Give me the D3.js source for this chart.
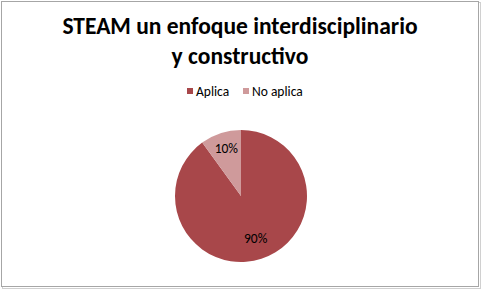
<!DOCTYPE html>
<html>
<head>
<meta charset="utf-8">
<script src="https://cdn.jsdelivr.net/npm/d3@7"></script>
<style>
  html, body { margin: 0; padding: 0; background: #fff; }
  svg { display: block; }
</style>
</head>
<body>
<svg id="chart" width="482" height="290"></svg>
<script>
const titleLines = ["STEAM un enfoque interdisciplinario", "y constructivo"];
const categories = ["Aplica", "No aplica"];
const values = [90, 10];
const colors = ["#A8474A", "#CF9A9B"];

const svg = d3.select("#chart");
const W = 482, H = 290;
const font = "Carlito, Lato, 'Open Sans', sans-serif";

// frame with a soft drop shadow
svg.append("rect").attr("x", 2.5).attr("y", 2.5).attr("width", W - 4).attr("height", H - 4)
  .attr("fill", "none").attr("stroke", "#d0d0d0").attr("stroke-width", 1);
svg.append("rect").attr("x", 1.5).attr("y", 1.5).attr("width", W - 5).attr("height", H - 5)
  .attr("fill", "#fff").attr("stroke", "#a6a6a6").attr("stroke-width", 1);

// title
svg.append("text")
  .attr("x", 240).attr("text-anchor", "middle")
  .attr("font-family", font).attr("font-weight", "bold").attr("font-size", 23.5)
  .attr("fill", "#000")
  .selectAll("tspan").data(titleLines).join("tspan")
  .attr("x", 240).attr("y", (d, i) => 34 + i * 30)
  .text(d => d);

// legend
const legend = svg.append("g").attr("font-family", font).attr("font-size", 13.5);
const legendX = [187, 243];
const items = legend.selectAll("g").data(categories).join("g")
  .attr("transform", (d, i) => `translate(${legendX[i]},0)`);
items.append("rect").attr("x", 0).attr("y", 88).attr("width", 6).attr("height", 6)
  .attr("fill", (d, i) => colors[i]);
items.append("text").attr("x", 9).attr("y", 96).attr("fill", "#000").text(d => d);

// pie
const cx = 241, cy = 196, r = 66;
const total = d3.sum(values);
const pie = d3.pie().sort(null).startAngle(0).endAngle(2 * Math.PI);
const arcs = pie(values);
const arc = d3.arc().innerRadius(0).outerRadius(r);
const labelArc = d3.arc().innerRadius(r * 0.72).outerRadius(r * 0.72);

const g = svg.append("g").attr("transform", `translate(${cx},${cy})`);
g.selectAll("path").data(arcs).join("path")
  .attr("d", arc)
  .attr("fill", (d, i) => colors[i]);

g.selectAll("text.lbl").data(arcs).join("text")
  .attr("class", "lbl")
  .attr("font-family", font).attr("font-size", 13.5).attr("fill", "#000")
  .attr("text-anchor", "middle")
  .attr("transform", d => {
    const [x, y] = labelArc.centroid(d);
    return `translate(${x},${y + 2})`;
  })
  .text(d => Math.round(d.value / total * 100) + "%");
</script>
</body>
</html>
